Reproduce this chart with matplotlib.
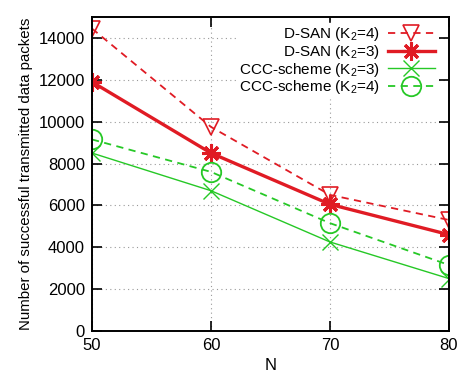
import matplotlib
matplotlib.use("Agg")
import matplotlib.pyplot as plt

plt.rcParams['font.family'] = ['Liberation Sans', 'DejaVu Sans']
plt.rcParams['mathtext.fontset'] = 'custom'
plt.rcParams['mathtext.rm'] = 'Liberation Sans'
plt.rcParams['mathtext.default'] = 'regular'

# data
N = [50, 60, 70, 80]
dsan_k4 = [14450, 9750, 6500, 5300]
dsan_k3 = [11900, 8500, 6050, 4600]
ccc_k3 = [8500, 6700, 4250, 2500]
ccc_k4 = [9150, 7600, 5150, 3150]

red = '#e01b24'
green = '#26c826'

fig = plt.figure(figsize=(4.74, 3.79), dpi=100)
ax = fig.add_axes([0.194, 0.127, 0.753, 0.828])

ax.plot(N, dsan_k4, color=red, ls=(0, (4, 3)), lw=1.3, marker='v', ms=12,
        mfc='none', mec=red, mew=1.2, label='D-SAN (K$_2$=4)')
ax.plot(N, dsan_k3, color=red, ls='-', lw=2.4, marker=(8, 2, 0), ms=13,
        mec=red, mew=2.2, label='D-SAN (K$_2$=3)')
ax.plot(N, ccc_k3, color=green, ls='-', lw=1.0, marker='x', ms=11,
        mec=green, mew=1.0, label='CCC-scheme (K$_2$=3)')
ax.plot(N, ccc_k4, color=green, ls=(0, (4, 3)), lw=1.3, marker='o', ms=14,
        mfc='none', mec=green, mew=1.3, label='CCC-scheme (K$_2$=4)')

ax.set_xlim(50, 80)
ax.set_ylim(0, 15000)
ax.set_xticks(N)
ax.set_yticks(range(0, 15000, 2000))
ax.grid(True, color='#999999', ls=(0, (1, 3)), lw=0.8)
ax.tick_params(direction='in', length=7, width=1.2, top=True, right=True,
               labelsize=12, pad=5)
for s in ax.spines.values():
    s.set_linewidth(1.4)

ax.set_xlabel('N', fontsize=12)
ax.set_ylabel('Number of successful transmitted data packets', fontsize=10.8)

leg = ax.legend(loc='upper right', bbox_to_anchor=(0.985, 1.0),
                markerfirst=False, fontsize=11,
                frameon=True, framealpha=1, edgecolor='white', fancybox=False,
                handlelength=3.1, labelspacing=-0.03, borderpad=0.15,
                borderaxespad=0.4, handletextpad=0.5)
# right-align the entries like gnuplot does
for col in leg._legend_handle_box.get_children():
    col.align = 'right'
leg.set_zorder(5)

fig.savefig('out.png', dpi=100)
